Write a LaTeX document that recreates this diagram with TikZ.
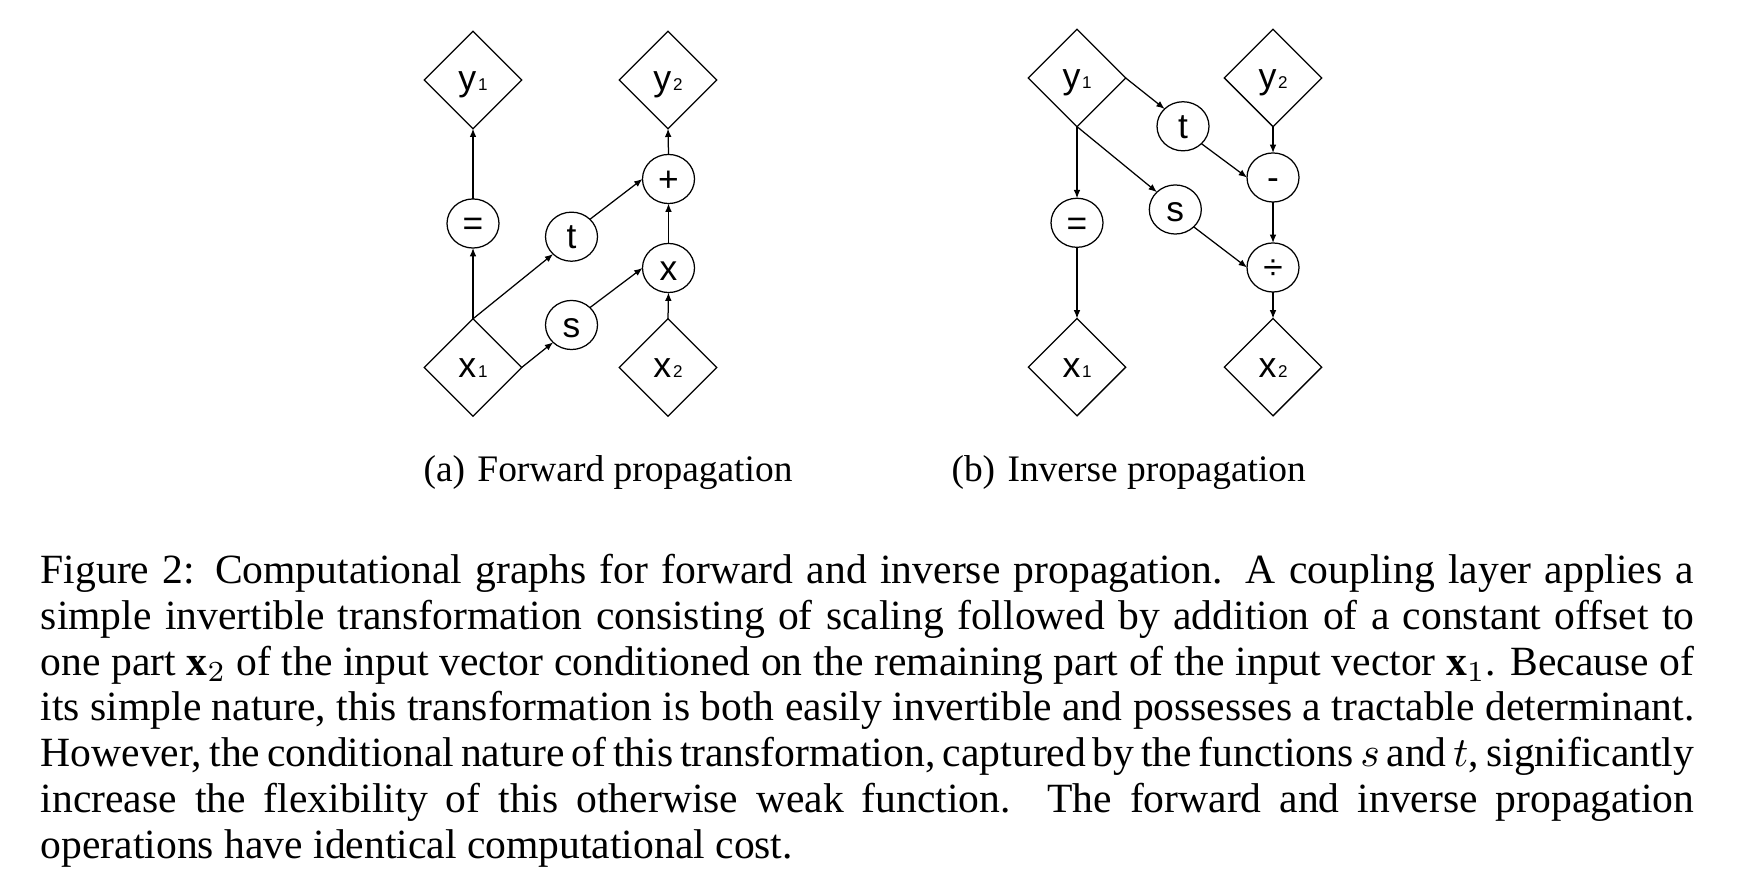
\documentclass[tikz,border=0pt]{standalone}
\usepackage{fontspec}
\setmainfont{Liberation Serif}
\newfontfamily\diagfont{Liberation Sans}
\usetikzlibrary{shapes.geometric,arrows.meta}
\hyphenpenalty=10000
\exhyphenpenalty=10000
\tolerance=10000
\hfuzz=50pt
\hbadness=10000
\newcommand{\dsub}[1]{{\hspace{0.4pt}\fontsize{4.1pt}{4.1pt}\selectfont #1}}
\begin{document}
\begin{tikzpicture}[x=0.2404pt,y=-0.2404pt,
  dia/.style={draw, diamond, aspect=1, minimum width=23.4pt, minimum height=23.4pt,
    inner sep=0pt, outer sep=0pt, line width=0.3pt,
    font=\diagfont\fontsize{8.6pt}{8.6pt}\selectfont, text height=5pt, text depth=0pt},
  op/.style={draw, ellipse, minimum width=12.5pt, minimum height=11.8pt,
    inner sep=0pt, outer sep=0pt, line width=0.3pt,
    font=\diagfont\fontsize{8.5pt}{8.5pt}\selectfont, text height=5.9pt, text depth=0pt},
  arr/.style={-{Latex[length=2pt,width=1.6pt]}, line width=0.3pt},
  subcap/.style={anchor=base west, inner sep=0pt, font=\fontsize{9pt}{10pt}\selectfont},
]
\useasboundingbox (0,0) rectangle (1750,880);

% ---------- (a) forward ----------
\node[dia] (y1a) at (473,80) {y\dsub{1}};
\node[dia] (y2a) at (668,80) {y\dsub{2}};
\node[op] (eqa) at (473,223.5) {=};
\node[op] (ta) at (571.5,236.7) {t};
\node[op] (plusa) at (668.5,179) {+};
\node[op] (timesa) at (668.5,268) {x};
\node[op] (sa) at (571.5,325) {s};
\node[dia] (x1a) at (473,367.5) {x\dsub{1}};
\node[dia] (x2a) at (668,367.5) {x\dsub{2}};

\draw[arr] (x1a.north) -- (eqa.south);
\draw[arr] (eqa.north) -- (y1a.south);
\draw[arr] (x1a.north) -- (ta.south west);
\draw[arr] (x1a.east) -- (sa.south west);
\draw[arr] (ta.north east) -- (plusa.west);
\draw[arr] (sa.north east) -- (timesa.west);
\draw[arr] (x2a.north) -- (timesa.south);
\draw[arr] (timesa.north) -- (plusa.south);
\draw[arr] (plusa.north) -- (y2a.south);

% ---------- (b) inverse ----------
\node[dia] (y1b) at (1077,78) {y\dsub{1}};
\node[dia] (y2b) at (1273,78) {y\dsub{2}};
\node[op] (tb) at (1183,126.3) {t};
\node[op] (minusb) at (1273,177.5) {-};
\node[op] (sb) at (1175.3,209.5) {s};
\node[op] (eqb) at (1077,222.8) {=};
\node[op] (divb) at (1273,267.5) {÷};
\node[dia] (x1b) at (1077,367.2) {x\dsub{1}};
\node[dia] (x2b) at (1273,367.2) {x\dsub{2}};

\draw[arr] (y1b.east) -- (tb.north west);
\draw[arr] (y1b.south) -- (eqb.north);
\draw[arr] (y1b.south) -- (sb.north west);
\draw[arr] (eqb.south) -- (x1b.north);
\draw[arr] (y2b.south) -- (minusb.north);
\draw[arr] (tb.south east) -- (minusb.west);
\draw[arr] (minusb.south) -- (divb.north);
\draw[arr] (sb.south east) -- (divb.west);
\draw[arr] (divb.south) -- (x2b.north);

% ---------- sub-captions ----------
\node[subcap] (capa) at (422.7,482) {(a)\hspace{0.33em}Forward propagation};
\node[subcap] (capb) at (950.7,482) {(b)\hspace{0.33em}Inverse propagation};

% ---------- caption ----------
\node[anchor=base west, inner sep=0pt, text width=397.5pt, align=justify,
  font=\fontsize{10pt}{11pt}\selectfont] (cap) at (40,583.5)
{\spaceskip=2.5pt plus 1.5pt minus 1.1pt
Figure 2: Computational graphs for forward and inverse propagation. A coupling layer applies a\linebreak{}
simple invertible transformation consisting of scaling followed by addition of a constant offset to\linebreak{}
one part $\mathbf{x}_2$ of the input vector conditioned on the remaining part of the input vector $\mathbf{x}_1$. Because of\linebreak{}
its simple nature, this transformation is both easily invertible and possesses a tractable determinant.\linebreak{}
However, the conditional nature of this transformation, captured by the functions $s$ and $t$, significantly\linebreak{}
increase the flexibility of this otherwise weak function. The forward and inverse propagation\linebreak{}
operations have identical computational cost.};
\end{tikzpicture}
\end{document}
